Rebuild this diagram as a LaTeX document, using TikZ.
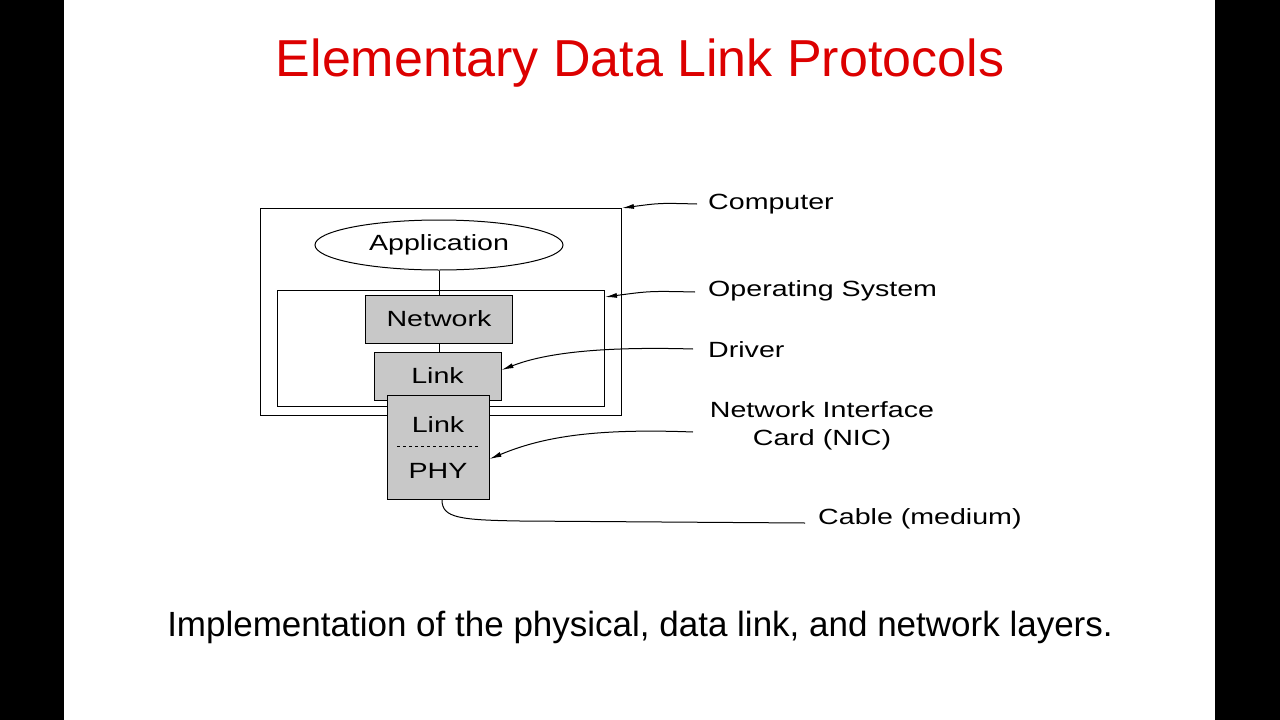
\documentclass[tikz,border=0pt]{standalone}
\usepackage{fontspec}
\setmainfont{Liberation Sans}
\newfontfamily\wide[FakeStretch=1.3]{Liberation Sans}
\usetikzlibrary{arrows.meta,shapes.geometric}
\begin{document}
\begin{tikzpicture}[x=1pt,y=-1pt,
  box/.style={draw=black,line width=1pt},
  layer/.style={draw=black,line width=1pt,fill={rgb,255:red,200;green,200;blue,200}},
  lf/.style={font=\wide\fontsize{22}{26}\selectfont},
  lbl/.style={lf,anchor=west,inner sep=0pt},
  arr/.style={line width=1pt,-{Latex[length=12pt,width=5pt]}}]
\useasboundingbox (0,0) rectangle (1280,720);
\fill[black] (0,0) rectangle (64,720);
\fill[black] (1215,0) rectangle (1280,720);
\node (title) at (640,63) {\fontsize{52}{56}\selectfont\color[RGB]{220,0,0}Elementary Data Link Protocols};
\draw[box] (260,208) rectangle (621,415);
\coordinate (comp) at (622,208);
\draw[box] (277,290) rectangle (604,406);
\coordinate (os) at (605,297);
\node[draw,line width=1pt,ellipse,minimum width=248pt,minimum height=50pt,inner sep=0pt,lf] (app) at (439,245) {Application};
\node[layer,minimum width=147pt,minimum height=48pt,inner sep=0pt,lf] (net) at (439,319) {Network};
\node[layer,minimum width=127pt,minimum height=48pt,inner sep=0pt,lf] (link) at (437.5,376) {Link};
\node[layer,minimum width=102pt,minimum height=104pt,inner sep=0pt] (nic) at (438,447) {};
\draw[dashed,line width=0.6pt] (397,446) -- (480,446);
\node[lf] (nl) at (438,425) {Link};
\node[lf] (np) at (438,471) {PHY};
\draw[line width=1pt] (app.south) -- (net.north);
\draw[line width=1pt] (net.south) -- (net.south |- link.north);
\node[lbl] (lc) at (708,204) {Computer};
\node[lbl] (lo) at (708,291) {Operating System};
\node[lbl] (ld) at (708,350) {Driver};
\node[lf,align=center,inner sep=0pt] (ln) at (822,426) {Network Interface\\[2pt]Card (NIC)};
\node[lbl] (lcab) at (818,519) {Cable (medium)};
\coordinate (a1) at (697,204);
\coordinate (a2) at (695,292);
\coordinate (a3) at (693,349);
\coordinate (a4) at (693,432);
\coordinate (c1) at (805,523);
\draw[arr] (a1) .. controls (660,203) .. (comp);
\draw[arr] (a2) .. controls (650,291) .. (os);
\draw[arr] (a3) .. controls (590,346) and (540,355) .. (link.east |- 0,370);
\draw[arr] (a4) .. controls (590,428) and (540,438) .. (nic.east |- 0,459);
\draw[line width=1pt] (442,500) .. controls (442,518) and (460,520) .. (520,521) -- (c1);
\node (cap) at (640,627) {\fontsize{35}{38}\selectfont Implementation of the physical, data link, and network layers.};
\end{tikzpicture}
\end{document}
